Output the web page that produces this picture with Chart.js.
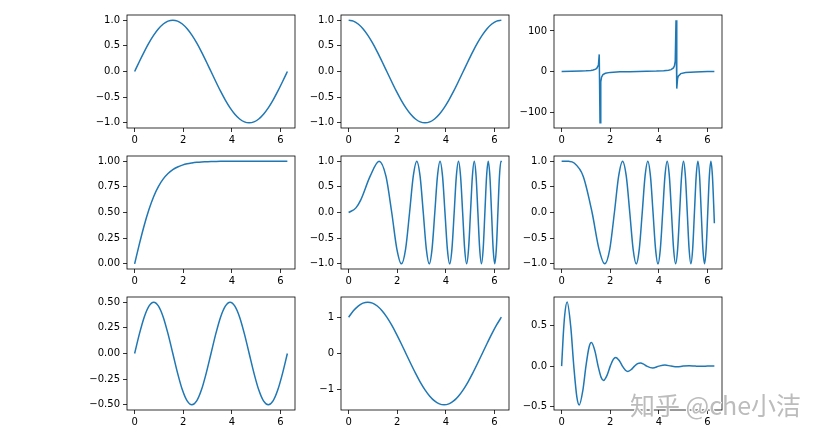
<!DOCTYPE html>
<html>
<head>
<meta charset="utf-8">
<script src="https://cdn.jsdelivr.net/npm/chart.js@4"></script>
<style>
  html, body { margin: 0; padding: 0; background: #fff; }
  #fig { position: relative; width: 822px; height: 438px; overflow: hidden; background: #fff; }
  #fig canvas { position: absolute; }
  #mark {
    position: absolute; left: 630px; top: 392px;
    font-family: "Noto Sans CJK SC", sans-serif; font-size: 25px; line-height: 25px;
    color: #bcbcbc; white-space: nowrap;
    text-shadow: 1px 0 #fff, -1px 0 #fff, 0 1px #fff, 0 -1px #fff;
  }
</style>
</head>
<body>
<div id="fig">
  <div id="mark">知乎 @che小洁</div>
</div>
<script>
// x 0..2pi, step pi/16
const xs = [0, 0.196, 0.393, 0.589, 0.785, 0.982, 1.178, 1.374, 1.571, 1.767, 1.963, 2.160, 2.356, 2.553, 2.749, 2.945,
            3.142, 3.338, 3.534, 3.731, 3.927, 4.123, 4.320, 4.516, 4.712, 4.909, 5.105, 5.301, 5.498, 5.694, 5.890, 6.087, 6.283];

const sinY = [0, 0.195, 0.383, 0.556, 0.707, 0.831, 0.924, 0.981, 1, 0.981, 0.924, 0.831, 0.707, 0.556, 0.383, 0.195,
              0, -0.195, -0.383, -0.556, -0.707, -0.831, -0.924, -0.981, -1, -0.981, -0.924, -0.831, -0.707, -0.556, -0.383, -0.195, 0];
const cosY = [1, 0.981, 0.924, 0.831, 0.707, 0.556, 0.383, 0.195, 0, -0.195, -0.383, -0.556, -0.707, -0.831, -0.924, -0.981,
              -1, -0.981, -0.924, -0.831, -0.707, -0.556, -0.383, -0.195, 0, 0.195, 0.383, 0.556, 0.707, 0.831, 0.924, 0.981, 1];
const tanhY = [0, 0.194, 0.374, 0.529, 0.656, 0.754, 0.827, 0.880, 0.917, 0.943, 0.961, 0.974, 0.982, 0.988, 0.992, 0.994,
               0.996, 0.997, 0.998, 0.999, 0.999, 0.999, 1, 1, 1, 1, 1, 1, 1, 1, 1, 1, 1];
const prodY = [0, 0.191, 0.354, 0.462, 0.5, 0.462, 0.354, 0.191, 0, -0.191, -0.354, -0.462, -0.5, -0.462, -0.354, -0.191,
               0, 0.191, 0.354, 0.462, 0.5, 0.462, 0.354, 0.191, 0, -0.191, -0.354, -0.462, -0.5, -0.462, -0.354, -0.191, 0];
const sumY = [1, 1.175, 1.307, 1.387, 1.414, 1.387, 1.307, 1.175, 1, 0.786, 0.541, 0.276, 0, -0.276, -0.541, -0.786,
              -1, -1.175, -1.307, -1.387, -1.414, -1.387, -1.307, -1.175, -1, -0.786, -0.541, -0.276, 0, 0.276, 0.541, 0.786, 1];

// tan
const tanX = [0, 0.4, 0.8, 1.0, 1.2, 1.3, 1.4, 1.45, 1.5, 1.516, 1.547, 1.579, 1.610, 1.642, 1.7, 1.8, 2.0, 2.4, 2.8,
              3.142, 3.5, 3.9, 4.2, 4.4, 4.5, 4.6, 4.641, 4.673, 4.705, 4.736, 4.768, 4.8, 4.9, 5.1, 5.5, 6.0, 6.283];
const tanY = [0, 0.423, 1.03, 1.557, 2.572, 3.602, 5.798, 8.24, 14.1, 18.1, 42.2, -126.6, -25.3, -14.06, -7.70, -4.29, -2.185, -0.916, -0.355,
              0, 0.374, 0.948, 1.78, 3.10, 4.64, 8.86, 14.06, 25.3, 126.6, -42.2, -18.1, -11.4, -5.27, -2.45, -1.0, -0.291, 0];

// sin(x^2), cos(x^2)
const xq = [0, 0.3, 0.5, 0.886, 1.253, 1.535, 1.773, 1.982, 2.171, 2.345, 2.507, 2.659, 2.803, 2.939, 3.070, 3.195, 3.316,
            3.432, 3.545, 3.654, 3.760, 3.863, 3.963, 4.061, 4.157, 4.250, 4.342, 4.431, 4.519, 4.605, 4.690, 4.773, 4.854,
            4.934, 5.013, 5.091, 5.168, 5.243, 5.317, 5.391, 5.463, 5.535, 5.605, 5.675, 5.743, 5.811, 5.879, 5.945, 6.011,
            6.076, 6.140, 6.204, 6.267, 6.283];
const sinSqY = [0, 0.090, 0.247,
                0.707, 1, 0.707, 0, -0.707, -1, -0.707, 0,
                0.707, 1, 0.707, 0, -0.707, -1, -0.707, 0,
                0.707, 1, 0.707, 0, -0.707, -1, -0.707, 0,
                0.707, 1, 0.707, 0, -0.707, -1, -0.707, 0,
                0.707, 1, 0.707, 0, -0.707, -1, -0.707, 0,
                0.707, 1, 0.707, 0, -0.707, -1, -0.707, 0,
                0.707, 1, 0.978];
const cosSqY = [1, 0.996, 0.969,
                0.707, 0, -0.707, -1, -0.707, 0, 0.707, 1,
                0.707, 0, -0.707, -1, -0.707, 0, 0.707, 1,
                0.707, 0, -0.707, -1, -0.707, 0, 0.707, 1,
                0.707, 0, -0.707, -1, -0.707, 0, 0.707, 1,
                0.707, 0, -0.707, -1, -0.707, 0, 0.707, 1,
                0.707, 0, -0.707, -1, -0.707, 0, 0.707, 1,
                0.707, 0, -0.208];

// damped oscillation
const xd = [0, 0.0625, 0.125, 0.225, 0.375, 0.5, 0.625, 0.725, 0.875, 1.0, 1.125, 1.225, 1.375, 1.5, 1.625, 1.725, 1.875,
            2.0, 2.125, 2.225, 2.375, 2.5, 2.625, 2.725, 2.875, 3.0, 3.125, 3.25, 3.375, 3.5, 3.75, 4.0, 4.25, 4.5, 4.75,
            5.0, 5.25, 5.5, 5.75, 6.0, 6.25, 6.283];
const dampY = [0, 0.360, 0.624, 0.789, 0.486, 0, -0.378, -0.478, -0.295, 0, 0.230, 0.290, 0.179, 0, -0.139, -0.176, -0.108,
               0, 0.084, 0.107, 0.066, 0, -0.051, -0.065, -0.040, 0, 0.031, 0.039, 0.024, 0, -0.024, 0, 0.014, 0, -0.009,
               0, 0.005, 0, -0.003, 0, 0.002, 0.002];

const xTicks = [0, 2, 4, 6];
const ticks1 = [-1, -0.5, 0, 0.5, 1];
const ticksTan = [-100, 0, 100];
const ticksTanh = [0, 0.25, 0.5, 0.75, 1];
const ticksHalf = [-0.5, -0.25, 0, 0.25, 0.5];
const ticksInt = [-1, 0, 1];
const ticksDamp = [-0.5, 0, 0.5];

// axes boxes (px)
const colLeft = [127, 341, 554];
const rowTop = [15, 156, 297];
const AX_W = 168, AX_H = 113;
const PAD_L = 60, PAD_T = 10, PAD_R = 15, PAD_B = 30;

const panels = [
  { x: xs, y: sinY, min: -1.1, max: 1.1, ticks: ticks1, dec: 1 },
  { x: xs, y: cosY, min: -1.1, max: 1.1, ticks: ticks1, dec: 1 },
  { x: tanX, y: tanY, min: -139.3, max: 139.3, ticks: ticksTan, dec: 0, straight: true },
  { x: xs, y: tanhY, min: -0.05, max: 1.05, ticks: ticksTanh, dec: 2 },
  { x: xq, y: sinSqY, min: -1.1, max: 1.1, ticks: ticks1, dec: 1 },
  { x: xq, y: cosSqY, min: -1.1, max: 1.1, ticks: ticks1, dec: 1 },
  { x: xs, y: prodY, min: -0.55, max: 0.55, ticks: ticksHalf, dec: 2 },
  { x: xs, y: sumY, min: -1.556, max: 1.556, ticks: ticksInt, dec: 0 },
  { x: xd, y: dampY, min: -0.541, max: 0.852, ticks: ticksDamp, dec: 1 }
];

function fmt(v, dec) {
  const s = Math.abs(v).toFixed(dec);
  return (v < 0 ? '\u2212' : '') + s;
}

const frame = {
  id: 'frame',
  afterDraw(chart) {
    const a = chart.chartArea, ctx = chart.ctx;
    ctx.save();
    ctx.strokeStyle = '#000';
    ctx.lineWidth = 0.8;
    ctx.strokeRect(a.left, a.top, a.right - a.left, a.bottom - a.top);
    ctx.restore();
  }
};

const fig = document.getElementById('fig');
const tickFont = { family: 'DejaVu Sans', size: 10 };

panels.forEach(function(p, i) {
  const canvas = document.createElement('canvas');
  const w = AX_W + PAD_L + PAD_R, h = AX_H + PAD_T + PAD_B;
  canvas.width = w;
  canvas.height = h;
  canvas.style.width = w + 'px';
  canvas.style.height = h + 'px';
  canvas.style.left = (colLeft[i % 3] - PAD_L) + 'px';
  canvas.style.top = (rowTop[Math.floor(i / 3)] - PAD_T) + 'px';
  fig.insertBefore(canvas, document.getElementById('mark'));

  const pts = p.x.map(function(x, k) { return { x: x, y: p.y[k] }; });

  new Chart(canvas.getContext('2d'), {
    type: 'line',
    data: {
      datasets: [{
        data: pts,
        borderColor: '#1f77b4',
        borderWidth: 1.5,
        pointRadius: 0,
        fill: false,
        cubicInterpolationMode: p.straight ? 'default' : 'monotone',
        tension: 0
      }]
    },
    options: {
      responsive: false,
      animation: false,
      devicePixelRatio: 1,
      layout: { padding: { left: 0, top: PAD_T, right: PAD_R, bottom: 0 } },
      plugins: { legend: { display: false }, tooltip: { enabled: false } },
      scales: {
        x: {
          type: 'linear',
          min: -0.314,
          max: 6.597,
          afterBuildTicks: function(s) { s.ticks = xTicks.map(function(v) { return { value: v }; }); },
          afterFit: function(s) { s.height = PAD_B; },
          grid: { drawOnChartArea: false, drawTicks: true, tickLength: 4, color: '#000', lineWidth: 0.8 },
          border: { display: false },
          ticks: { color: '#000', font: tickFont, padding: 2, maxRotation: 0,
                   callback: function(v) { return fmt(v, 0); } }
        },
        y: {
          type: 'linear',
          min: p.min,
          max: p.max,
          afterBuildTicks: function(s) { s.ticks = p.ticks.map(function(v) { return { value: v }; }); },
          afterFit: function(s) { s.width = PAD_L; },
          grid: { drawOnChartArea: false, drawTicks: true, tickLength: 4, color: '#000', lineWidth: 0.8 },
          border: { display: false },
          ticks: { color: '#000', font: tickFont, padding: 3,
                   callback: function(v) { return fmt(v, p.dec); } }
        }
      }
    },
    plugins: [frame]
  });
});
</script>
</body>
</html>
